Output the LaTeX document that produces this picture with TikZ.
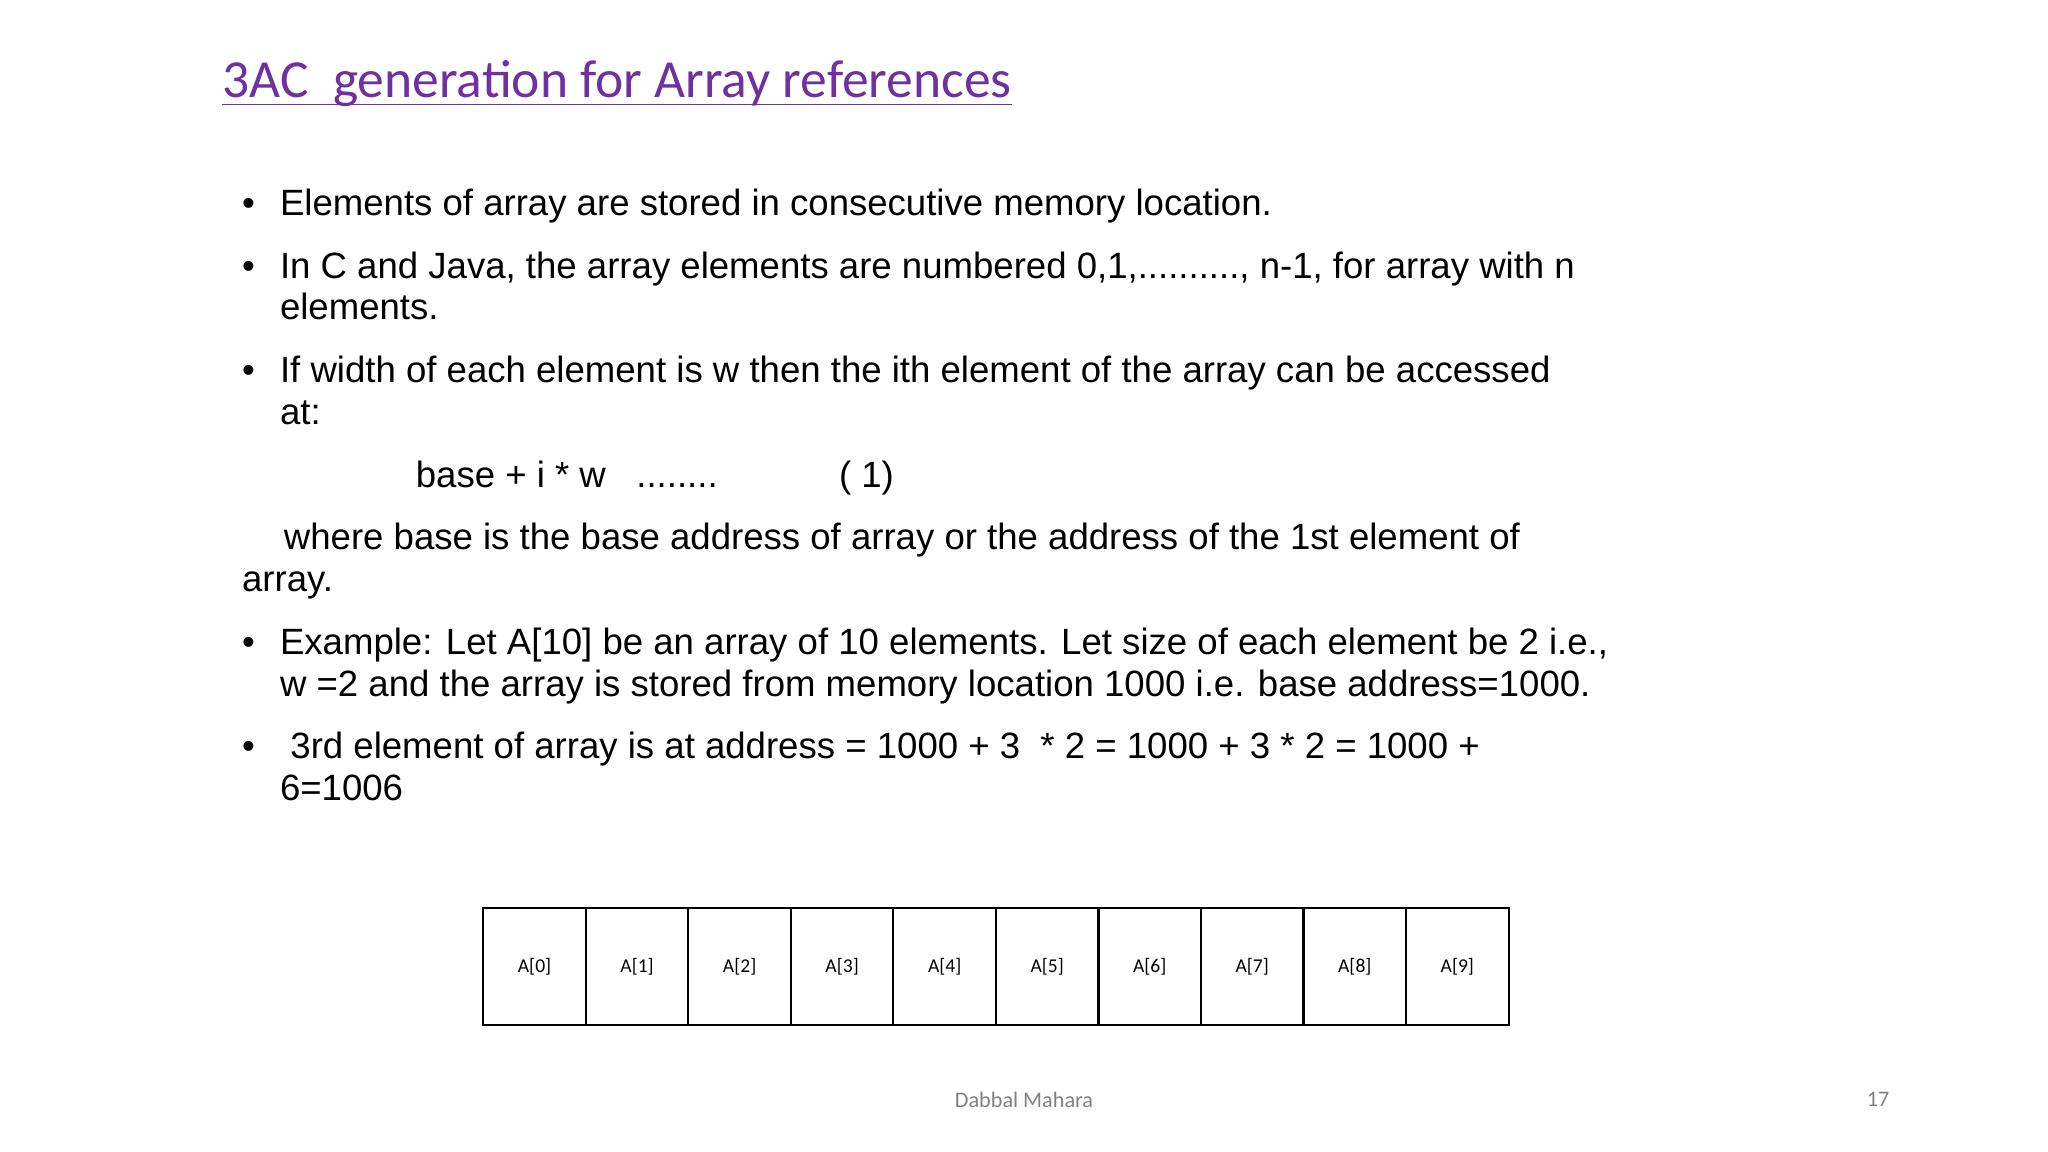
\documentclass[tikz,border=0pt]{standalone}
\usepackage{fontspec}
\setmainfont{Liberation Sans}
\newfontfamily\calfont{Carlito}
\definecolor{ttl}{HTML}{7030A0}
\begin{document}
\begin{tikzpicture}[x=0.5pt,y=-0.5pt,
  txt/.style={anchor=base west,inner sep=0pt,font=\fontsize{14}{16}\selectfont},
  cell/.style={draw,line width=0.8pt,minimum width=39.25pt,minimum height=45pt,inner sep=0pt,font=\calfont\fontsize{7.5}{9}\selectfont}]
\useasboundingbox (0,0) rectangle (1568,882);
\node[anchor=base west,inner sep=0pt,text=ttl,font=\calfont\fontsize{20.5}{24}\selectfont] (title) at (170,75) {3AC\ \ generation for Array references};
\draw[ttl,line width=0.7pt] ([yshift=-2.5pt]title.base west) -- ([yshift=-2.5pt]title.base east);
\foreach \y in {165,213,293,501,581} \node[txt] at (185,\y) {•};
\node[txt] at (214,165) {Elements of array are stored in consecutive memory location.};
\node[txt] at (214,213) {In C and Java, the array elements are numbered 0,1,.........., n-1, for array with n};
\node[txt] at (214,245) {elements.};
\node[txt] at (214,293) {If width of each element is w then the ith element of the array can be accessed};
\node[txt] at (214,325) {at:};
\node[txt] at (318,373) {base + i * w\ \ \ ........};
\node[txt] at (642,373) {( 1)};
\node[txt] at (217,421) {where base is the base address of array or the address of the 1st element of};
\node[txt] at (185,453) {array.};
\node[txt] at (214,501) {Example: Let A[10] be an array of 10 elements. Let size of each element be 2 i.e.,};
\node[txt] at (214,533) {w =2 and the array is stored from memory location 1000 i.e. base address=1000.};
\node[txt] at (222,581) {3rd element of array is at address = 1000 + 3\ \ * 2 = 1000 + 3 * 2 = 1000 +};
\node[txt] at (214,613) {6=1006};
\foreach \i in {0,...,9} \node[cell] (c\i) at ({409.25+78.5*\i},740) {A[\i]};
\node[text=gray,font=\calfont\fontsize{8.5}{10}\selectfont] (foot) at (784,842) {Dabbal Mahara};
\node[text=gray,font=\calfont\fontsize{8.5}{10}\selectfont] (pg) at (1438,842) {17};
\end{tikzpicture}
\end{document}
